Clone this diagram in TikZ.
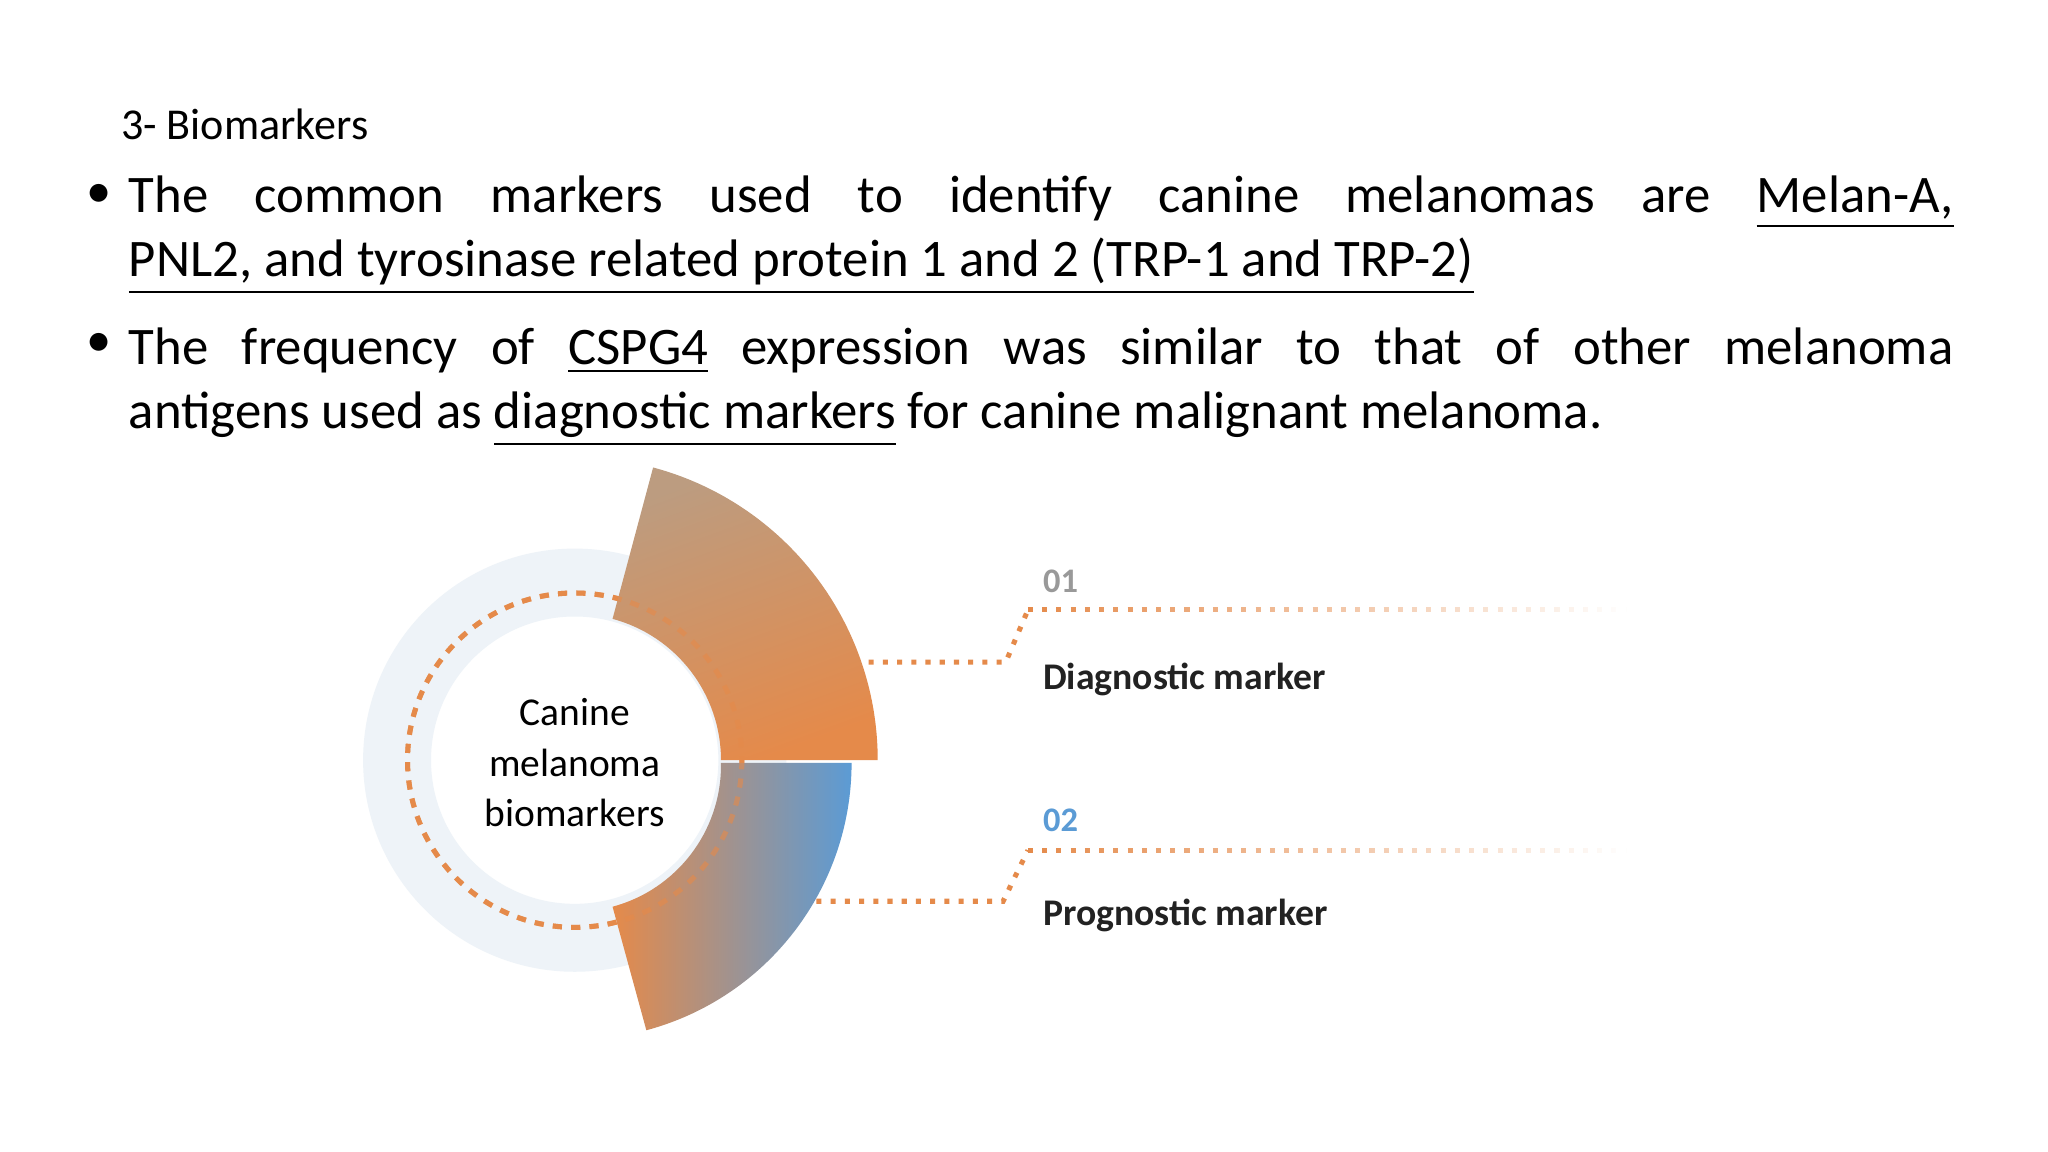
\documentclass[tikz,border=0pt]{standalone}
\usepackage{fontspec}
\setmainfont{Carlito}
\usetikzlibrary{fadings,calc}
\definecolor{org}{HTML}{E58A4A}
\definecolor{tan}{HTML}{BC9C80}
\definecolor{blu}{HTML}{5B9BD5}
\definecolor{pale}{HTML}{EEF3F8}
\definecolor{txt}{HTML}{222222}
\newcommand{\ul}[1]{\underline{#1}}
\begin{document}
\begin{tikzpicture}[x=0.1mm,y=-0.1mm,
  conn/.style={org, line width=1.1pt, dotted},
  bl/.style={anchor=base west, inner sep=0, font=\fontsize{11.5pt}{14pt}\selectfont, text=black},
  lab/.style={anchor=west, font=\fontsize{8.2pt}{10pt}\selectfont\bfseries, text=txt, inner sep=0},
  num/.style={anchor=west, font=\fontsize{7.5pt}{9pt}\selectfont\bfseries, inner sep=0}]
\useasboundingbox[fill=white] (0,0) rectangle (1568,882);
\node[anchor=west, inner sep=0, font=\fontsize{9.6pt}{11pt}\selectfont] (title) at (92,95) {3- Biomarkers};
\node[bl] (t1) at (98,163) {\hbox to 139.7mm{The\hfill common\hfill markers\hfill used\hfill to\hfill identify\hfill canine\hfill melanomas\hfill are\hfill \ul{Melan-A,}}};
\node[bl] (t2) at (98,212) {\ul{PNL2, and tyrosinase related protein 1 and 2 (TRP-1 and TRP-2)}};
\node[bl] (t3) at (98,279) {\hbox to 139.7mm{The frequency of \ul{CSPG4} expression was similar to that of other melanoma}};
\node[bl] (t4) at (98,328) {antigens used as \ul{diagnostic markers} for canine malignant melanoma.};
\node[inner sep=0, font=\fontsize{11pt}{12pt}\selectfont] (d1) at (76,150) {•};
\node[inner sep=0, font=\fontsize{11pt}{12pt}\selectfont] (d2) at (76,264) {•};
% ring
\coordinate (c) at (440,582);
\fill[pale, even odd rule] (c) circle (162) (c) circle (110);
\draw[org, line width=1.1pt, dash pattern=on 2pt off 2pt] (c) circle (128);
\shade[top color=tan, bottom color=org, shading angle=20]
  ($(c)+(0:112)$) arc[start angle=0,end angle=-75,radius=112]
  -- ($(c)+(-75:232)$) arc[start angle=-75,end angle=0,radius=232] -- cycle;
\shade[left color=org, right color=blu]
  ($(c)+(0:112)+(0,2)$) -- ($(c)+(0,2)+(212,0)$) arc[start angle=0,end angle=75,radius=212]
  -- ($(c)+(75:112)+(0,4)$) arc[start angle=75,end angle=0,radius=112] -- cycle;
\draw[org, line width=1.1pt, dash pattern=on 2pt off 2pt, opacity=0.6] (c) circle (128);
\node[align=center, inner sep=0, font=\fontsize{8.6pt}{11pt}\selectfont, text=black] (ctr) at (440,584) {Canine\\melanoma\\biomarkers};
% connectors
\coordinate (s1) at (665,507); \coordinate (k1) at (770,507); \coordinate (m1) at (787,467); \coordinate (e1) at (1245,467);
\coordinate (s2) at (625,690); \coordinate (k2) at (768,690); \coordinate (m2) at (787,651); \coordinate (e2) at (1245,651);
\draw[conn] (s1) -- (k1) -- (m1);
\draw[conn, path fading=east] (m1) -- (e1);
\draw[conn] (s2) -- (k2) -- (m2);
\draw[conn, path fading=east] (m2) -- (e2);
\node[num, text=gray!80] (n1) at (798,445) {01};
\node[lab] (l1) at (798,520) {Diagnostic marker};
\node[num, text=blu] (n2) at (798,628) {02};
\node[lab] (l2) at (798,701) {Prognostic marker};
\end{tikzpicture}
\end{document}
